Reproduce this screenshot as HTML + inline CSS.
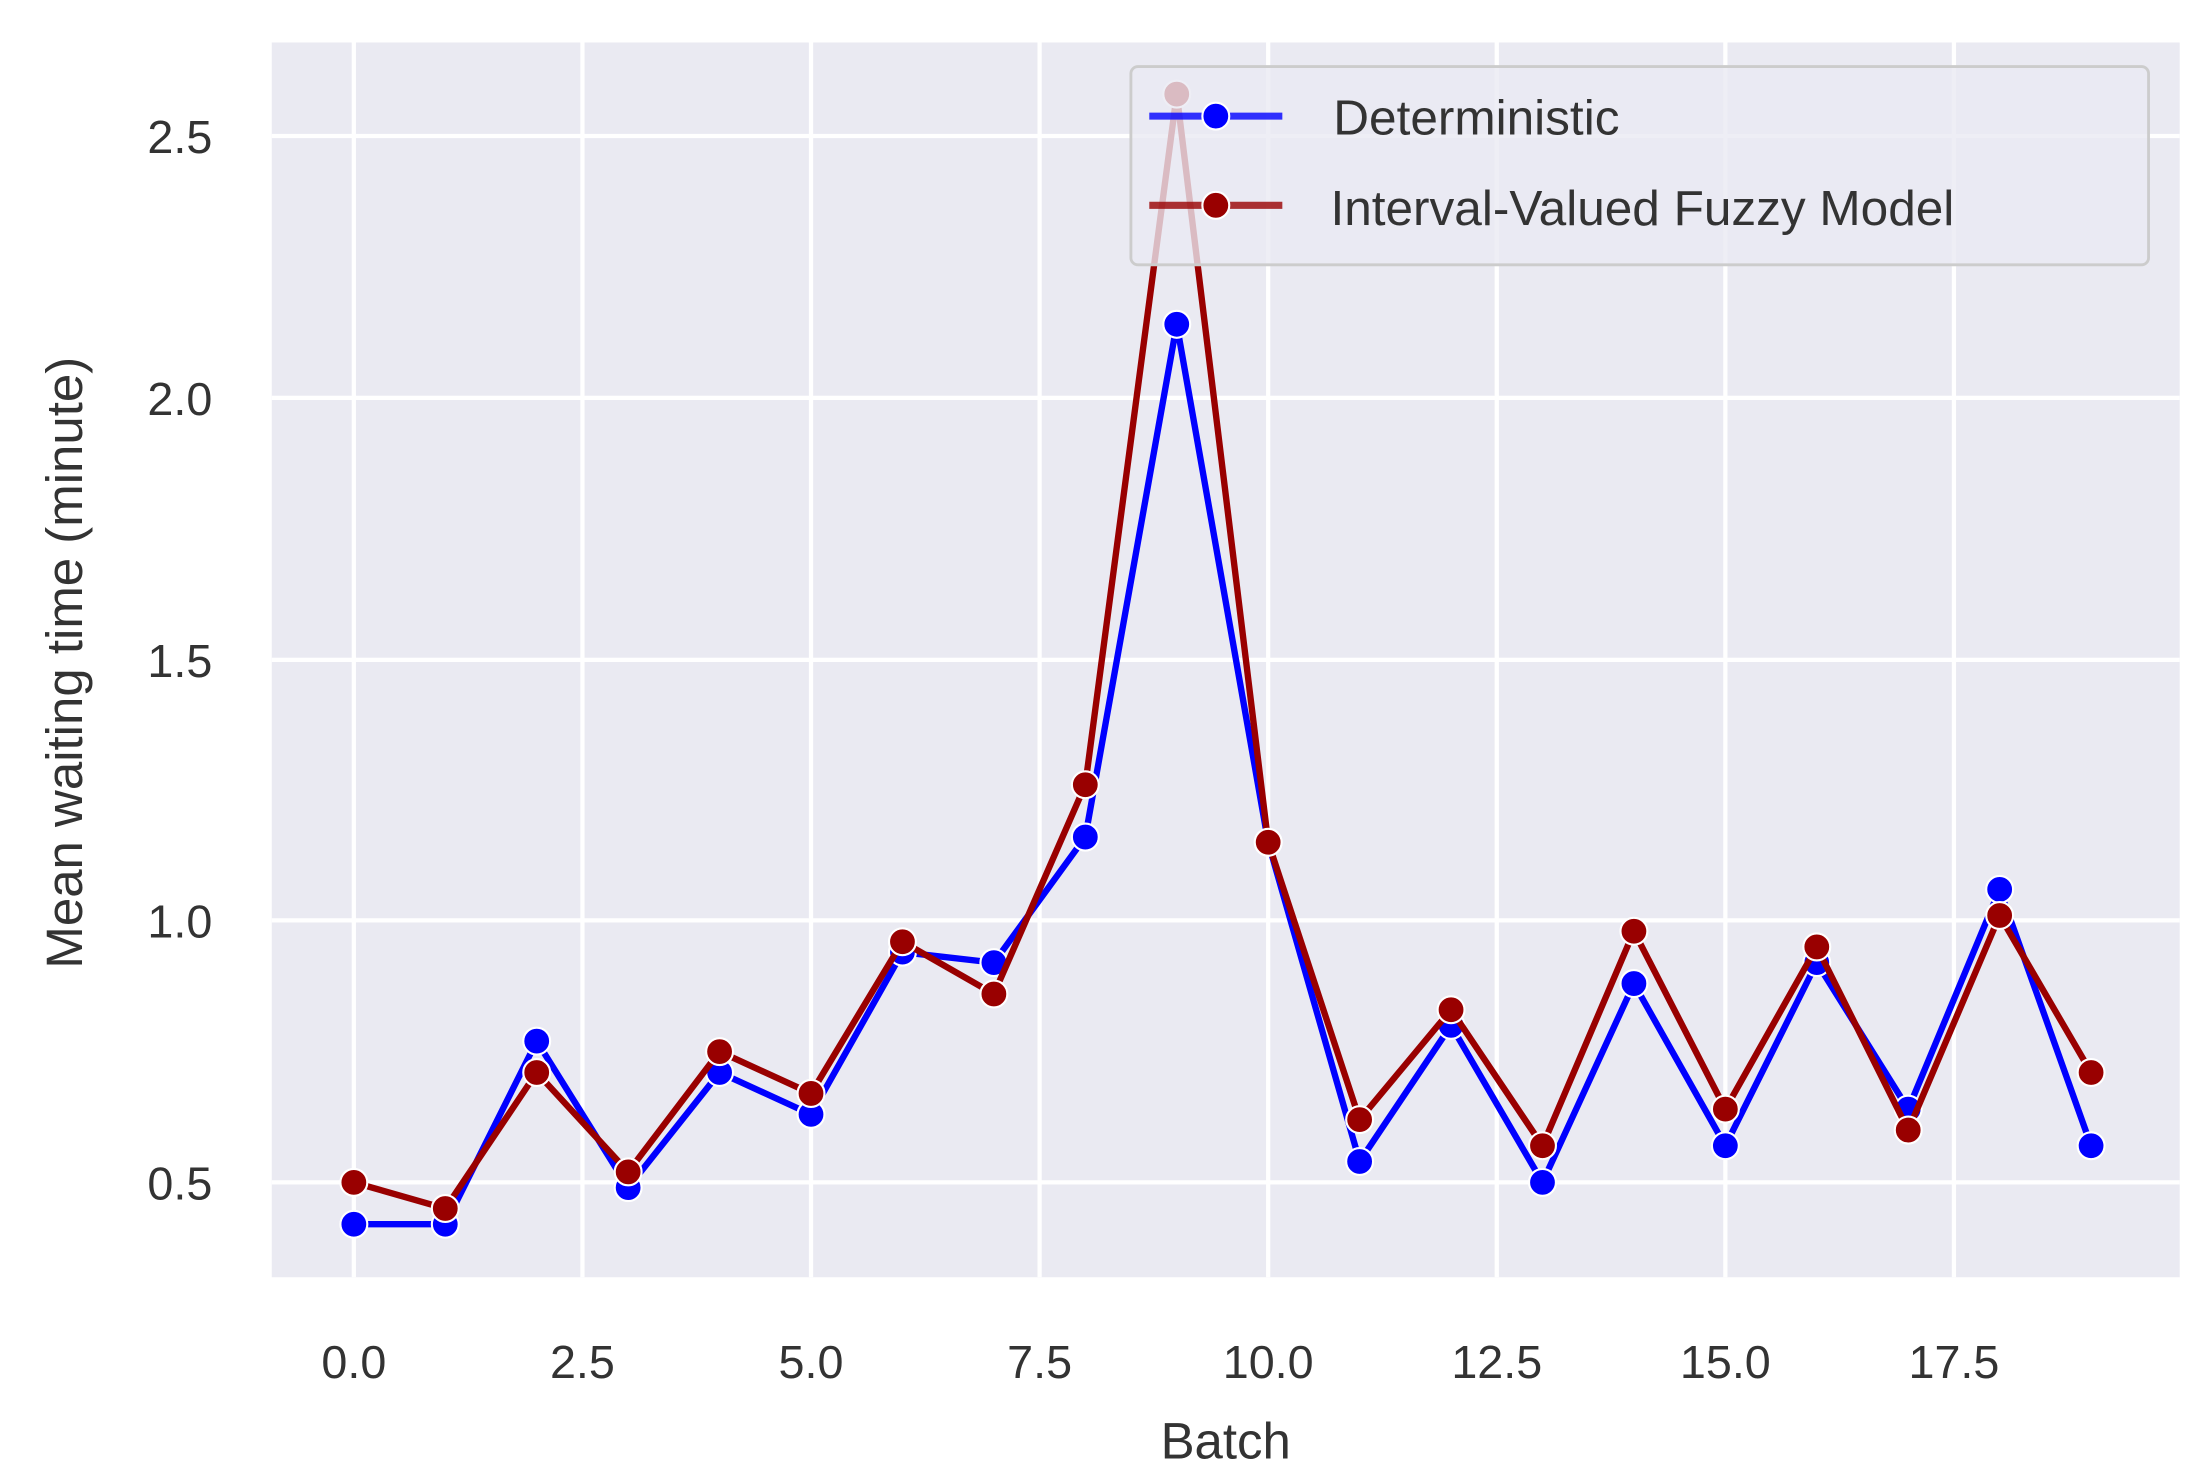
<!DOCTYPE html>
<html><head><meta charset="utf-8"><style>html,body{margin:0;padding:0;background:#fff}svg{display:block}</style></head>
<body>
<svg width="2208" height="1484" viewBox="0 0 1560 1048" preserveAspectRatio="none" xmlns="http://www.w3.org/2000/svg" font-family="Liberation Sans, Arial, sans-serif">
<rect x="192" y="30" width="1348" height="872" fill="#eaeaf2"/>
<g stroke="#fff" stroke-width="3">
<line x1="250" y1="30" x2="250" y2="902"/><line x1="411.5" y1="30" x2="411.5" y2="902"/><line x1="573" y1="30" x2="573" y2="902"/><line x1="734.5" y1="30" x2="734.5" y2="902"/><line x1="896" y1="30" x2="896" y2="902"/><line x1="1057.5" y1="30" x2="1057.5" y2="902"/><line x1="1219" y1="30" x2="1219" y2="902"/><line x1="1380.5" y1="30" x2="1380.5" y2="902"/>
<line x1="192" y1="96" x2="1540" y2="96"/><line x1="192" y1="281" x2="1540" y2="281"/><line x1="192" y1="466" x2="1540" y2="466"/><line x1="192" y1="650" x2="1540" y2="650"/><line x1="192" y1="835" x2="1540" y2="835"/>
</g>
<g font-size="33" fill="#333" text-anchor="end">
<text x="150" y="108">2.5</text><text x="150" y="293">2.0</text><text x="150" y="478">1.5</text><text x="150" y="662">1.0</text><text x="150" y="847">0.5</text>
</g>
<g font-size="33" fill="#333" text-anchor="middle">
<text x="250" y="973">0.0</text><text x="411.5" y="973">2.5</text><text x="573" y="973">5.0</text><text x="734.5" y="973">7.5</text><text x="896" y="973">10.0</text><text x="1057.5" y="973">12.5</text><text x="1219" y="973">15.0</text><text x="1380.5" y="973">17.5</text>
<text x="866" y="1030" font-size="36">Batch</text>
<text transform="translate(58,468) rotate(-90)" font-size="36">Mean waiting time (minute)</text>
</g>
<g id="leg">
<rect x="799" y="47" width="719" height="140" rx="5" fill="#eaeaf2" fill-opacity="0.8" stroke="#cccccc" stroke-width="2"/>
<line x1="812" y1="82" x2="906" y2="82" stroke="#0000ff" stroke-width="5" stroke-opacity="0.8"/>
<circle cx="859" cy="82" r="9.5" fill="#0000ff" stroke="#fff" stroke-width="1.5"/>
<line x1="812" y1="145" x2="906" y2="145" stroke="#990000" stroke-width="5" stroke-opacity="0.8"/>
<circle cx="859" cy="145" r="9.5" fill="#990000" stroke="#fff" stroke-width="1.5"/>
<text x="942" y="95" font-size="35" fill="#333">Deterministic</text>
<text x="940" y="159" font-size="35" fill="#333">Interval-Valued Fuzzy Model</text>
</g>
<script>
var X=i=>250+64.6*i, Y=v=>835-(v-0.5)*369.5;
var B=[0.42,0.42,0.77,0.49,0.71,0.63,0.94,0.92,1.16,2.14,1.15,0.54,0.80,0.50,0.88,0.57,0.92,0.64,1.06,0.57];
var R=[0.50,0.45,0.71,0.52,0.75,0.67,0.96,0.86,1.26,2.58,1.15,0.62,0.83,0.57,0.98,0.64,0.95,0.60,1.01,0.71];
var ns="http://www.w3.org/2000/svg",svg=document.querySelector('svg');
function draw(d,c){var g=document.createElementNS(ns,'g');
var p=document.createElementNS(ns,'polyline');p.setAttribute('points',d.map((v,i)=>X(i)+','+Y(v)).join(' '));
p.setAttribute('fill','none');p.setAttribute('stroke',c);p.setAttribute('stroke-width','4.5');p.setAttribute('stroke-linejoin','round');g.appendChild(p);
d.forEach((v,i)=>{var e=document.createElementNS(ns,'circle');e.setAttribute('cx',X(i));e.setAttribute('cy',Y(v));e.setAttribute('r','9.5');e.setAttribute('fill',c);e.setAttribute('stroke','#fff');e.setAttribute('stroke-width','1.5');g.appendChild(e);});
return g;}
var leg=document.getElementById('leg');
svg.insertBefore(draw(B,'#0000ff'),leg);svg.insertBefore(draw(R,'#990000'),leg);
</script>
</svg>
</body></html>
